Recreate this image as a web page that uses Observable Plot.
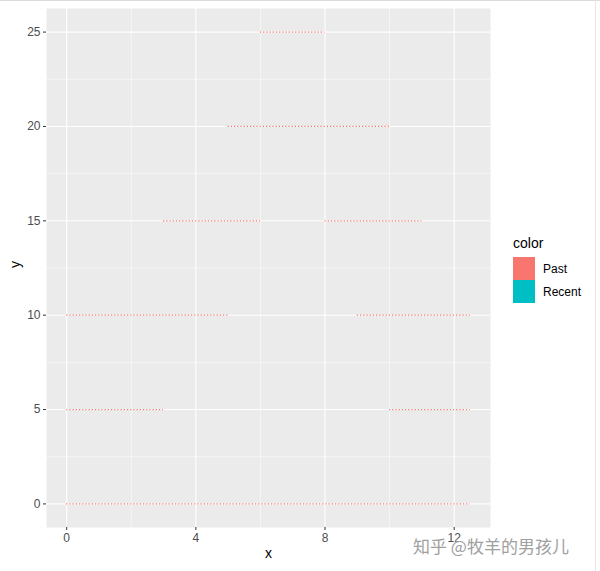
<!DOCTYPE html>
<html><head><meta charset="utf-8">
<script src="https://cdn.jsdelivr.net/npm/d3@7"></script>
<script src="https://cdn.jsdelivr.net/npm/@observablehq/plot@0.6"></script>
<style>
body{margin:0;background:#fff;font-family:"Liberation Sans",Arial,sans-serif}
#wrap{position:relative;width:600px;height:571px;overflow:hidden;background:#fff}
#legend{position:absolute;left:513px;top:235px;color:#000}
#legend .title{font-size:14px;margin-bottom:6px;line-height:16px}
#legend .row{display:flex;align-items:center;height:23px}
#legend .key{width:22px;height:23px;margin-right:8px}
#legend .lab{font-size:12px}
#wm{position:absolute;left:413px;top:533px;font-size:17px;color:#a0a0a0;font-family:"Noto Sans CJK SC",sans-serif;text-shadow:0 0 2px #fff;white-space:nowrap}
.bt{position:absolute;left:0;top:0;width:600px;height:1px;background:#dcdcdc}
.br{position:absolute;left:595px;top:0;width:1px;height:571px;background:#e6e6e6}
</style>
</head><body><div id="wrap"></div>
<script>
// segment data (all drawn in the "Past" group)
const segY     = [0, 5, 5, 10, 10, 15, 15, 20, 25];
const segStart = [0, 0, 10, 0, 9, 3, 8, 5, 6];
const segEnd   = [12.5, 3, 12.5, 5, 12.5, 6, 11, 10, 8];
const segGroup = ["Past","Past","Past","Past","Past","Past","Past","Past","Past"];

const legendLabels = ["Past", "Recent"];
const legendColors = ["#F8766D", "#00BFC4"];

const xTicks = [0, 4, 8, 12];
const xMinor = [2, 6, 10];
const yTicks = [0, 5, 10, 15, 20, 25];
const yMinor = [2.5, 7.5, 12.5, 17.5, 22.5];

const data = segY.map((y, i) => ({y, x1: segStart[i], x2: segEnd[i], group: segGroup[i]}));

const plot = Plot.plot({
  width: 600, height: 571,
  marginLeft: 46, marginRight: 110, marginTop: 8, marginBottom: 44,
  style: {background: "transparent", fontFamily: "Liberation Sans, Arial, sans-serif", fontSize: "12px"},
  x: {domain: [-0.625, 13.125]},
  y: {domain: [-1.25, 26.25]},
  color: {domain: legendLabels, range: legendColors},
  marks: [
    Plot.frame({fill: "#EBEBEB", stroke: "none"}),
    Plot.ruleX(xMinor, {stroke: "white", strokeWidth: 0.55}),
    Plot.ruleY(yMinor, {stroke: "white", strokeWidth: 0.55}),
    Plot.ruleX(xTicks, {stroke: "white", strokeWidth: 1.1}),
    Plot.ruleY(yTicks, {stroke: "white", strokeWidth: 1.1}),
    Plot.ruleY(data, {y: "y", x1: "x1", x2: "x2", stroke: "group", strokeWidth: 1.2, strokeDasharray: "1.2,2"}),
    Plot.axisX({ticks: xTicks, tickSize: 3, tickPadding: 3, label: null, stroke: "#333", fill: "#4D4D4D", tickFormat: d => String(d)}),
    Plot.axisY({ticks: yTicks, tickSize: 3, tickPadding: 3, label: null, stroke: "#333", fill: "#4D4D4D", tickFormat: d => String(d)}),
    Plot.text(["x"], {text: d => d, frameAnchor: "bottom", dy: 30, fontSize: 14, fill: "#000"}),
    Plot.text(["y"], {text: d => d, frameAnchor: "left", dx: -31, rotate: -90, fontSize: 14, fill: "#000"})
  ]
});

const wrap = document.getElementById("wrap");
wrap.appendChild(plot);

const lg = document.createElement("div");
lg.id = "legend";
lg.innerHTML = `<div class="title">color</div>` + legendLabels.map((l, i) =>
  `<div class="row"><div class="key" style="background:${legendColors[i]}"></div><div class="lab">${l}</div></div>`).join("");
wrap.appendChild(lg);

const wm = document.createElement("div");
wm.id = "wm";
wm.textContent = "知乎 @牧羊的男孩儿";
wrap.appendChild(wm);

const bt = document.createElement("div"); bt.className = "bt"; wrap.appendChild(bt);
const br = document.createElement("div"); br.className = "br"; wrap.appendChild(br);
</script>
</body></html>
